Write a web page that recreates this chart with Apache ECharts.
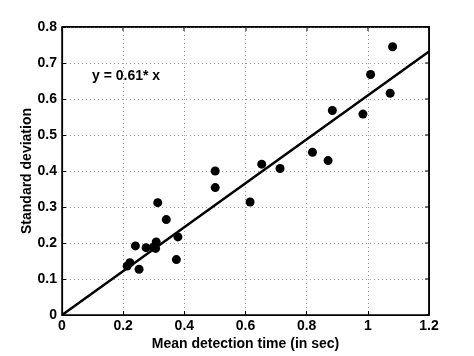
<!DOCTYPE html>
<html><head><meta charset="utf-8">
<script src="https://cdn.jsdelivr.net/npm/echarts@6/dist/echarts.min.js"></script>
<style>html,body{margin:0;padding:0;background:#fff}#c{width:474px;height:356px}</style>
</head><body><div id="c"></div>
<script>
const meanTime = [0.213,0.222,0.240,0.252,0.275,0.299,0.308,0.306,0.313,0.341,0.379,0.374,0.501,0.501,0.615,0.653,0.713,0.819,0.870,0.884,0.984,1.009,1.073,1.081];
const stdDev   = [0.136,0.145,0.192,0.127,0.187,0.188,0.203,0.185,0.312,0.265,0.217,0.154,0.400,0.354,0.314,0.419,0.407,0.452,0.429,0.568,0.558,0.668,0.616,0.745];
const slope = 0.61;
const fitX = [0, 1.2];
const xTicks = [0, 0.2, 0.4, 0.6, 0.8, 1, 1.2];
const yTicks = [0, 0.1, 0.2, 0.3, 0.4, 0.5, 0.6, 0.7, 0.8];

const xMin = xTicks[0], xMax = xTicks[xTicks.length-1];
const yMin = yTicks[0], yMax = yTicks[yTicks.length-1];
const font = 'Liberation Sans, Arial, sans-serif';
const chart = echarts.init(document.getElementById('c'));
const gridSplit = {show:true, showMinLine:true, showMaxLine:true, lineStyle:{color:'#999', type:[1,3], width:1}};
const lblStyle = {color:'#000', fontFamily:font, fontWeight:'bold', fontSize:14};
chart.setOption({
  animation:false,
  grid:{left:62, right:45, top:27, bottom:41, show:true, borderColor:'#000', borderWidth:1.5},
  xAxis:[{
    type:'value', min:xMin, max:xMax, interval:0.2,
    axisLine:{onZero:false, lineStyle:{color:'#000', width:1.2}},
    axisTick:{inside:true, length:4, lineStyle:{color:'#000'}},
    axisLabel:Object.assign({margin:4, formatter:v=>String(+v.toFixed(1))}, lblStyle),
    splitLine:gridSplit,
    name:'Mean detection time (in sec)', nameLocation:'middle', nameGap:22, nameMoveOverlap:false,
    nameTextStyle:lblStyle
  }],
  yAxis:[{
    type:'value', min:yMin, max:yMax, interval:0.1,
    axisLine:{show:true, onZero:false, lineStyle:{color:'#000', width:1.2}},
    axisTick:{show:true, inside:true, length:4, lineStyle:{color:'#000'}},
    axisLabel:Object.assign({margin:5, formatter:v=>String(+v.toFixed(1))}, lblStyle),
    splitLine:gridSplit,
    name:'Standard deviation', nameLocation:'middle', nameGap:28, nameMoveOverlap:false,
    nameTextStyle:lblStyle
  }],
  series:[{
    type:'line', data:fitX.map(x=>[x, slope*x]), symbol:'none',
    lineStyle:{color:'#000', width:2.5}, z:3
  },{
    type:'scatter', data:meanTime.map((x,i)=>[x, stdDev[i]]),
    symbol:'circle', symbolSize:9, itemStyle:{color:'#000', opacity:1}, z:4
  }]
});
// frame edges (top, right) as filled bars and inward ticks, placed via the axes' own scales
const tl = chart.convertToPixel({gridIndex:0}, [xMin, yMax]);
const br = chart.convertToPixel({gridIndex:0}, [xMax, yMin]);
const g = [{
  type:'text', left:92, top:69,
  style:{text:'y = 0.61* x', font:'bold 14px '+font, fill:'#000'}
},{
  type:'rect', z:100, silent:true,
  shape:{x:Math.round(tl[0]), y:Math.round(tl[1])-1, width:Math.round(br[0]-tl[0])+1, height:1.6},
  style:{fill:'#000'}
},{
  type:'rect', z:100, silent:true,
  shape:{x:Math.round(br[0])-0.6, y:Math.round(tl[1])-1, width:1.6, height:Math.round(br[1]-tl[1])+1},
  style:{fill:'#000'}
}];
xTicks.forEach(v=>{
  const p = chart.convertToPixel({gridIndex:0}, [v, yMax]);
  g.push({type:'rect', z:100, silent:true, shape:{x:Math.round(p[0])-0.5, y:p[1], width:1, height:4}, style:{fill:'#000'}});
});
yTicks.forEach(v=>{
  const p = chart.convertToPixel({gridIndex:0}, [xMax, v]);
  g.push({type:'rect', z:100, silent:true, shape:{x:p[0]-4, y:Math.round(p[1])-0.5, width:4, height:1}, style:{fill:'#000'}});
});
chart.setOption({graphic:g});
</script></body></html>
